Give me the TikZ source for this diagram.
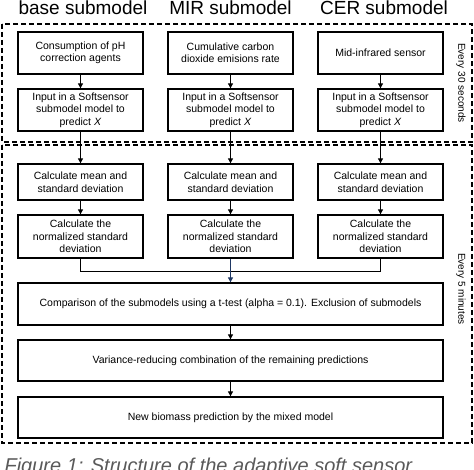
\documentclass[tikz,border=0pt]{standalone}
\usepackage{fontspec}
\setmainfont{Liberation Sans}
\usetikzlibrary{arrows.meta, positioning, calc}
\definecolor{arrowblue}{RGB}{31,56,100}

\begin{document}
\begin{tikzpicture}[x=1pt, y=-1pt,
      stepbox/.style={draw, line width=1.3pt, align=center, minimum width=125pt,
      minimum height=42pt, inner sep=2pt, font=\fontsize{10.5pt}{12.5pt}\selectfont},
      widebox/.style={stepbox, minimum width=425pt},
      frame/.style={draw, line width=1.8pt, dash pattern=on 5pt off 3pt},
      flow/.style={-{Triangle[width=5pt,length=5pt]}, line width=0.9pt},
      title/.style={font=\fontsize{19pt}{22pt}\selectfont, anchor=base},
      period/.style={rotate=-90, font=\fontsize{10pt}{12pt}\selectfont},
      caption/.style={font=\fontsize{20pt}{24pt}\selectfont\itshape, text=black!65,
      anchor=base west} ]

    \useasboundingbox (0,0) rectangle (474,470);

    % Submodel titles
    \node[title] (tbase) at (83,15) {base submodel}; \node[title] (tmir) at
    (230.5,15) {MIR submodel}; \node[title] (tcer) at (384,15) {CER submodel};

    % Dashed time frames
    \draw[frame] (2,24) rectangle (472,142); \draw[frame] (2,145) rectangle
    (472,443);
    \node[period] (p30) at (461,83) {Every 30 seconds}; \node[period] (p5) at
    (461,289) {Every 5 minutes};

    % Inputs
    \node[stepbox] (ph) at (80.5,53) {Consumption of pH\\correction agents};
    \node[stepbox] (co) at (230.5,53) {Cumulative carbon\\dioxide emisions rate};
    \node[stepbox] (ir) at (380.5,53) {Mid-infrared sensor};

    % Softsensor submodels
    \node[stepbox] (sb1) at (80.5,110) {Input in a Softsensor\\submodel model
    to\\predict \textit{X}}; \node[stepbox] (sb2) at (230.5,110) {Input in a
    Softsensor\\submodel model to\\predict \textit{X}}; \node[stepbox] (sb3) at
    (380.5,110) {Input in a Softsensor\\submodel model to\\predict \textit{X}};

    % Mean and standard deviation
    \node[stepbox, minimum height=36pt] (ms1) at (80.5,182) {Calculate mean
    and\\standard deviation}; \node[stepbox, minimum height=36pt] (ms2) at
    (230.5,182) {Calculate mean and\\standard deviation}; \node[stepbox, minimum
    height=36pt] (ms3) at (380.5,182) {Calculate mean and\\standard deviation};

    % Normalized standard deviation
    \node[stepbox, minimum height=43pt] (ns1) at (80.5,236.5) {Calculate
    the\\normalized standard\\deviation}; \node[stepbox, minimum height=43pt]
    (ns2) at (230.5,236.5) {Calculate the\\normalized standard\\deviation};
    \node[stepbox, minimum height=43pt] (ns3) at (380.5,236.5) {Calculate
    the\\normalized standard\\deviation};

    % Combination steps
    \node[widebox] (cmp) at (230.5,304) {Comparison of the submodels using a
    t-test (alpha = 0.1). Exclusion of submodels};
    \node[widebox, minimum height=41pt] (var) at (230.5,360.5) {Variance-reducing
    combination of the remaining predictions};
    \node[widebox, minimum height=41pt] (mix) at (230.5,417.5) {New biomass
    prediction by the mixed model};

    % Column arrows
    \foreach \i/\a/\b/\c/\d in {1/ph/sb1/ms1/ns1, 2/co/sb2/ms2/ns2,
    3/ir/sb3/ms3/ns3} { \draw[flow] (\a) -- (\b); \draw[flow] (\b) -- (\c);
    \draw[flow] (\c) -- (\d); }

    % Joining the three columns
    \coordinate (j1) at (80.5,271); \coordinate (j3) at (380.5,271);
    \draw[line width=0.9pt] (ns1.south) -- (j1) -- (j3) -- (ns3.south);
    \draw[flow, arrowblue] (ns2) -- (cmp);
    \draw[flow] (cmp) -- (var); \draw[flow] (var) -- (mix);

    % Caption
    \node[caption] (cap) at (1,472) {Figure 1: Structure of the adaptive soft
    sensor};

\end{tikzpicture}
\end{document}
